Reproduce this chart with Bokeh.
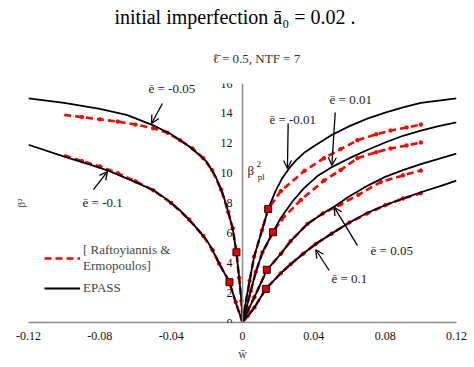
import math
from bokeh.plotting import figure
from bokeh.models import (Label, Arrow, OpenHead, FixedTicker, Legend, LegendItem,
                          Range1d, Title)
from bokeh.embed import file_html
from bokeh.resources import INLINE

FONT = "Liberation Serif"

# ---------------- data ----------------
# EPASS (black solid)
epass_m005_w = [-0.12, -0.1, -0.08, -0.065, -0.05, -0.04, -0.03, -0.024, -0.02, -0.015, -0.011, -0.008, -0.0055, -0.0034, -0.0019, -0.0006, 0]
epass_m005_b = [15.0, 14.7, 14.3, 13.9, 13.2, 12.6, 11.8, 11.2, 10.75, 9.75, 8.6, 7.4, 6.3, 4.7, 3.0, 1.45, 0]

epass_m01_w = [-0.12, -0.1, -0.085, -0.075, -0.06, -0.05, -0.042, -0.035, -0.027, -0.02, -0.0168, -0.0131, -0.0073, -0.0038, 0]
epass_m01_b = [11.9, 11.1, 10.55, 10.15, 9.4, 8.85, 8.2, 7.5, 6.5, 5.5, 4.85, 3.95, 2.7, 1.35, 0]

epass_m001_w = [0, 0.001, 0.004, 0.0065, 0.011, 0.0144, 0.0185, 0.022, 0.026, 0.03, 0.035, 0.04, 0.05, 0.06, 0.07, 0.08, 0.09, 0.1, 0.11, 0.12]
epass_m001_b = [0, 0.8, 2.8, 4.4, 6.2, 7.6, 8.8, 9.6, 10.3, 10.85, 11.4, 11.8, 12.55, 13.15, 13.65, 14.05, 14.4, 14.7, 14.85, 15.0]

epass_p001_w = [0, 0.002, 0.0046, 0.0075, 0.0112, 0.0171, 0.0215, 0.028, 0.0345, 0.042, 0.05, 0.06, 0.07, 0.08, 0.09, 0.1, 0.11, 0.12]
epass_p001_b = [0, 0.85, 2.1, 3.4, 4.7, 6.04, 7.0, 8.1, 9.0, 9.8, 10.4, 11.0, 11.55, 12.05, 12.5, 12.85, 13.15, 13.4]

epass_p005_w = [0, 0.003, 0.0067, 0.0136, 0.0215, 0.027, 0.0364, 0.045, 0.0513, 0.06, 0.07, 0.08, 0.09, 0.1, 0.11, 0.12]
epass_p005_b = [0, 0.8, 1.7, 3.5, 4.6, 5.45, 6.6, 7.3, 7.75, 8.45, 9.15, 9.75, 10.2, 10.6, 10.95, 11.3]

epass_p01_w = [0, 0.003, 0.0067, 0.0131, 0.0215, 0.027, 0.034, 0.041, 0.05, 0.06, 0.07, 0.08, 0.09, 0.1, 0.11, 0.12]
epass_p01_b = [0, 0.45, 1.0, 2.25, 3.3, 3.9, 4.6, 5.25, 5.95, 6.7, 7.35, 7.85, 8.3, 8.72, 9.1, 9.5]

# Raftoyiannis & Ermopoulos (red dashed)
raft_m005_w = [-0.1, -0.09, -0.08, -0.07, -0.06, -0.05, -0.042, -0.035, -0.028, -0.022, -0.017, -0.012, -0.008, -0.0055, -0.0034, -0.0019, -0.0006, 0]
raft_m005_b = [13.9, 13.75, 13.6, 13.45, 13.25, 13.0, 12.7, 12.2, 11.65, 11.0, 10.2, 8.9, 7.4, 6.3, 4.7, 3.0, 1.45, 0]

raft_m01_w = [-0.1, -0.09, -0.08, -0.07, -0.06, -0.05, -0.04, -0.03, -0.022, -0.0168, -0.0131, -0.0073, -0.0038, 0]
raft_m01_b = [11.2, 10.8, 10.45, 10.0, 9.45, 8.85, 8.0, 6.9, 5.8, 4.85, 3.95, 2.7, 1.35, 0]

raft_m001_w = [0, 0.001, 0.004, 0.0065, 0.011, 0.0144, 0.0215, 0.0347, 0.0457, 0.055, 0.0644, 0.075, 0.083, 0.092, 0.1]
raft_m001_b = [0, 0.8, 2.8, 4.4, 6.2, 7.6, 8.8, 10.15, 11.0, 11.6, 12.2, 12.6, 12.85, 13.05, 13.25]

raft_p001_w = [0, 0.002, 0.0046, 0.0075, 0.0112, 0.0171, 0.022, 0.0327, 0.0457, 0.055, 0.0644, 0.075, 0.083, 0.092, 0.1]
raft_p001_b = [0, 0.85, 2.1, 3.4, 4.7, 6.04, 6.9, 8.2, 9.5, 10.2, 11.0, 11.4, 11.65, 11.85, 12.05]

raft_p005_w = [0, 0.003, 0.0067, 0.0136, 0.0215, 0.027, 0.0364, 0.045, 0.055, 0.065, 0.0775, 0.09, 0.1]
raft_p005_b = [0, 0.8, 1.7, 3.5, 4.6, 5.45, 6.6, 7.3, 7.9, 8.55, 9.4, 9.85, 10.17]

raft_p01_w = [0, 0.003, 0.0067, 0.0131, 0.0215, 0.027, 0.034, 0.041, 0.05, 0.06, 0.07, 0.08, 0.09, 0.1]
raft_p01_b = [0, 0.45, 1.0, 2.25, 3.3, 3.9, 4.6, 5.25, 5.95, 6.7, 7.3, 7.85, 8.3, 8.65]

# beta^2_pl points (squares)
pl_w = [-0.0034, -0.0073, 0.0144, 0.0171, 0.0136, 0.0131]
pl_b = [4.7, 2.7, 7.6, 6.04, 3.53, 2.25]

x_ticks = [-0.12, -0.08, -0.04, 0, 0.04, 0.08, 0.12]
x_tick_labels = ["-0.12", "-0.08", "-0.04", "0", "0.04", "0.08", "0.12"]
y_ticks = [0, 2, 4, 6, 8, 10, 12, 14, 16]

# ---------------- figure ----------------
p = figure(width=474, height=367, x_range=Range1d(-0.12, 0.12), y_range=Range1d(0, 16),
           output_backend="svg", toolbar_location=None,
           min_border_left=28, min_border_right=18, min_border_top=83, min_border_bottom=45)
p.outline_line_color = None
p.grid.visible = False
p.background_fill_color = "white"

# titles (stacked above the frame; first added is closest)
p.add_layout(Title(text="\u2113\u0304 = 0.5, NTF = 7", align="left", offset=184, standoff=36,
                   text_font=FONT, text_font_size="13px", text_font_style="normal",
                   text_color="#333333"), "above")
p.add_layout(Title(text="initial imperfection  a\u0304\u2080 = 0.02 .", align="left", offset=86, standoff=5,
                   text_font=FONT, text_font_size="20px", text_font_style="normal",
                   text_color="black"), "above")
p.add_layout(Title(text="\u03b2\u00b2", align="center", standoff=3,
                   text_font=FONT, text_font_size="11px", text_font_style="normal",
                   text_color="#333333"), "left")

# axes
xa = p.xaxis[0]
xa.ticker = FixedTicker(ticks=x_ticks)
xa.major_label_overrides = {t: l for t, l in zip(x_ticks, x_tick_labels)}
xa.axis_line_color = "#8c8c8c"
xa.axis_line_width = 1.5
xa.major_tick_line_color = None
xa.minor_tick_line_color = None
xa.major_tick_out = 0
xa.major_tick_in = 0
xa.minor_tick_out = 0
xa.major_label_standoff = 9
xa.major_label_text_font = FONT
xa.major_label_text_font_size = "12px"
xa.major_label_text_color = "#111111"
xa.axis_label = "w\u0304"
xa.axis_label_text_font = FONT
xa.axis_label_text_font_style = "normal"
xa.axis_label_text_font_size = "12px"
xa.axis_label_standoff = 4

ya = p.yaxis[0]
ya.fixed_location = 0
ya.ticker = FixedTicker(ticks=y_ticks)
ya.axis_line_color = "#8c8c8c"
ya.axis_line_width = 1.5
ya.major_tick_line_color = None
ya.minor_tick_line_color = None
ya.major_tick_out = 0
ya.major_tick_in = 0
ya.minor_tick_out = 0
ya.major_label_standoff = 10
ya.major_label_text_font = FONT
ya.major_label_text_font_size = "12px"
ya.major_label_text_color = "#111111"

# curves
black_sets = [(epass_m005_w, epass_m005_b), (epass_m01_w, epass_m01_b),
              (epass_m001_w, epass_m001_b), (epass_p001_w, epass_p001_b),
              (epass_p005_w, epass_p005_b), (epass_p01_w, epass_p01_b)]
red_sets = [(raft_m005_w, raft_m005_b), (raft_m01_w, raft_m01_b),
            (raft_m001_w, raft_m001_b), (raft_p001_w, raft_p001_b),
            (raft_p005_w, raft_p005_b), (raft_p01_w, raft_p01_b)]

red_renderers = []
for w, b in red_sets:
    r = p.line(w, b, line_color="#ff0000", line_width=2.6, line_dash="7 4")
    red_renderers.append(r)
    p.scatter(w[1:-1] if w[-1] == 0 else w[1:], b[1:-1] if w[-1] == 0 else b[1:],
              marker="circle", size=3.5, color="#ff0000")

black_renderers = []
for w, b in black_sets:
    r = p.line(w, b, line_color="black", line_width=1.8)
    black_renderers.append(r)

p.scatter(pl_w, pl_b, marker="square", size=7, fill_color="#e00000", line_color="#300000", line_width=1)

# legend
legend = Legend(items=[LegendItem(label="[ Raftoyiannis &\nErmopoulos]", renderers=[red_renderers[0]]),
                       LegendItem(label="EPASS", renderers=[black_renderers[0]])],
                location=(14, 24), orientation="vertical",
                background_fill_alpha=0, border_line_alpha=0,
                label_text_font=FONT, label_text_font_size="13px",
                glyph_width=36, glyph_height=14, label_standoff=3, spacing=6,
                padding=2, margin=0)
p.add_layout(legend)

# texts inside the frame
def lab(x, y, text, size="13px", align="left", color="#1a1a1a"):
    p.add_layout(Label(x=x, y=y, text=text, text_font=FONT, text_font_size=size,
                       text_font_style="normal", text_align=align, text_baseline="middle",
                       text_color=color))

lab(0.0028, 10.18, "\u03b2", size="13px")
lab(0.0079, 10.58, "2", size="9px")
lab(0.0085, 9.77, "pl", size="9px")

lab(-0.0527, 15.66, "\u0113 = -0.05")
lab(-0.0897, 8.03, "\u0113 = -0.1")
lab(0.0151, 13.59, "\u0113 = -0.01")
lab(0.0488, 14.93, "\u0113 = 0.01")
lab(0.0718, 4.82, "\u0113 = 0.05")
lab(0.0499, 2.95, "\u0113 = 0.1")

arrows = [(-0.0449, 14.66, -0.0510, 13.32),
          (-0.0836, 8.90, -0.0757, 10.11),
          (0.0256, 13.32, 0.0252, 10.31),
          (0.0520, 14.06, 0.0501, 10.51),
          (0.0645, 5.15, 0.0514, 7.72),
          (0.0486, 3.48, 0.0411, 4.87)]
for xs, ys, xe, ye in arrows:
    p.add_layout(Arrow(end=OpenHead(size=8, line_width=1.3, line_color="black"),
                       x_start=xs, y_start=ys, x_end=xe, y_end=ye,
                       line_width=1.3, line_color="black"))

open("out.html", "w").write(file_html(p, INLINE))
